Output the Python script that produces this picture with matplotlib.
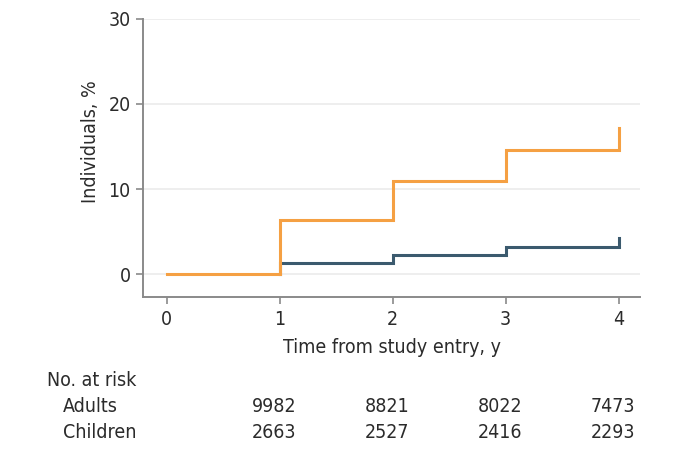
import matplotlib.pyplot as plt
import matplotlib.transforms as mtransforms

plt.rcParams['font.family'] = ['DejaVu Sans']
plt.rcParams['font.stretch'] = 'condensed'

# data
years = [0, 1, 2, 3, 4]
children_pct = [0, 6.4, 10.9, 14.6, 17.2]
adults_pct = [0, 1.35, 2.3, 3.15, 4.2]

risk_years = [1, 2, 3, 4]
risk_groups = ['Adults', 'Children']
adults_risk = [9982, 8821, 8022, 7473]
children_risk = [2663, 2527, 2416, 2293]

orange = '#F5A043'
blue = '#3B5A6E'
gray = '#8a8a8a'
text_col = '#2b2b2b'
fs = 14

fig = plt.figure(figsize=(6.78, 4.62), dpi=100)
ax = fig.add_axes([0.211, 0.357, 0.733, 0.602])


# step curves: flat until next year, jump at the year
def step_xy(vals):
    xs, ys = [], []
    for i in range(len(vals) - 1):
        xs += [years[i], years[i + 1]]
        ys += [vals[i], vals[i]]
    xs.append(years[-1])
    ys.append(vals[-1])
    return xs, ys


bx, by = step_xy(adults_pct)
ax.plot(bx[1:], by[1:], color=blue, lw=2.2, solid_joinstyle='miter')
ox, oy = step_xy(children_pct)
ax.plot(ox, oy, color=orange, lw=2.2, solid_joinstyle='miter')

ax.set_xlim(-0.21, 4.19)
ax.set_ylim(-2.7, 30)
ax.set_xticks(years)
ax.set_yticks([0, 10, 20, 30])
for y in [0, 10, 20, 30]:
    ax.axhline(y, color='#ebebeb', lw=1.2, zorder=0)

for s in ['top', 'right']:
    ax.spines[s].set_visible(False)
for s in ['left', 'bottom']:
    ax.spines[s].set_color(gray)
    ax.spines[s].set_linewidth(1.4)
ax.tick_params(direction='out', length=5, width=1.2, color=gray,
               labelsize=fs, labelcolor=text_col, pad=4)

ax.set_ylabel('Individuals, %', fontsize=fs, color=text_col)
ax.yaxis.set_label_coords(-0.087, 0.56)
ax.set_xlabel('Time from study entry, y', fontsize=fs, color=text_col, labelpad=7)

# number at risk table
fig.text(47 / 678, 1 - 380 / 462, 'No. at risk', fontsize=fs, color=text_col,
         va='center', ha='left')
trans = mtransforms.blended_transform_factory(ax.transData, fig.transFigure)
rows = [adults_risk, children_risk]
row_y = [407, 433]
for name, vals, yy in zip(risk_groups, rows, row_y):
    fig.text(63 / 678, 1 - yy / 462, name, fontsize=fs, color=text_col,
             va='center', ha='left')
    for x, v in zip(risk_years, vals):
        ax.text(x + 0.15, 1 - yy / 462, str(v), fontsize=fs, color=text_col,
                ha='right', va='center', transform=trans, clip_on=False)

plt.savefig('out.png', dpi=100)
